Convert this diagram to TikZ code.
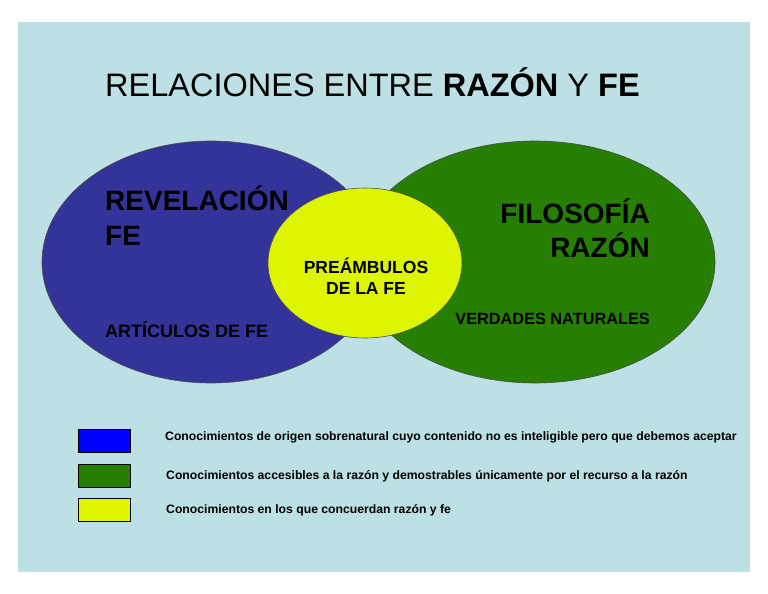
\documentclass[tikz,border=0pt]{standalone}
\usepackage{fontspec}
\setmainfont{Liberation Sans}
\definecolor{bg}{HTML}{BDE0E4}
\definecolor{cblue}{HTML}{333399}
\definecolor{cgreen}{HTML}{267F00}
\definecolor{cyel}{HTML}{DDF500}
\definecolor{lblue}{HTML}{0000FF}
\begin{document}
\begin{tikzpicture}[x=1pt,y=-1pt,
  lbox/.style={draw=black,line width=0.5pt,minimum width=52pt,minimum height=23pt,inner sep=0pt},
  ltext/.style={anchor=west,font=\bfseries\fontsize{12.2}{14}\selectfont,inner sep=0pt},
  set/.style={draw=black!70,line width=0.6pt}]
\useasboundingbox (0,0) rectangle (768,594);
\fill[white] (0,0) rectangle (768,594);
\fill[bg] (18,22) rectangle (750,572);
\node[anchor=base west,inner sep=0pt,font=\fontsize{32.5}{36}\selectfont] (title) at (105,96) {RELACIONES ENTRE \textbf{RAZÓN} Y \textbf{FE}};
\draw[set,fill=cblue] (211,262) ellipse [x radius=169,y radius=121];
\draw[set,fill=cgreen] (535,262) ellipse [x radius=180,y radius=121];
\draw[set,fill=cyel] (365,263) ellipse [x radius=97,y radius=75];
\node[anchor=base west,inner sep=0pt,align=left,font=\bfseries\fontsize{28}{35}\selectfont] (rev) at (105,245) {REVELACIÓN\\FE};
\node[anchor=base east,inner sep=0pt,align=right,font=\bfseries\fontsize{28}{34}\selectfont] (fil) at (650,257) {FILOSOFÍA\\RAZÓN};
\node[align=center,inner sep=0pt,font=\bfseries\fontsize{17.5}{21}\selectfont] (pre) at (366,276) {PREÁMBULOS\\DE LA FE};
\node[anchor=base west,inner sep=0pt,font=\bfseries\fontsize{18}{20}\selectfont] (art) at (105,337) {ARTÍCULOS DE FE};
\node[anchor=base east,inner sep=0pt,font=\bfseries\fontsize{16.3}{18}\selectfont] (ver) at (650,324) {VERDADES NATURALES};
\node[lbox,fill=lblue] (b1) at (104,441) {};
\node[lbox,fill=cgreen] (b2) at (104,476) {};
\node[lbox,fill=cyel] (b3) at (104,510) {};
\node[ltext] (t1) at (165,437) {Conocimientos de origen sobrenatural cuyo contenido no es inteligible pero que debemos aceptar};
\node[ltext] (t2) at (166,476) {Conocimientos accesibles a la razón y demostrables únicamente por el recurso a la razón};
\node[ltext] (t3) at (166,510) {Conocimientos en los que concuerdan razón y fe};
\end{tikzpicture}
\end{document}
